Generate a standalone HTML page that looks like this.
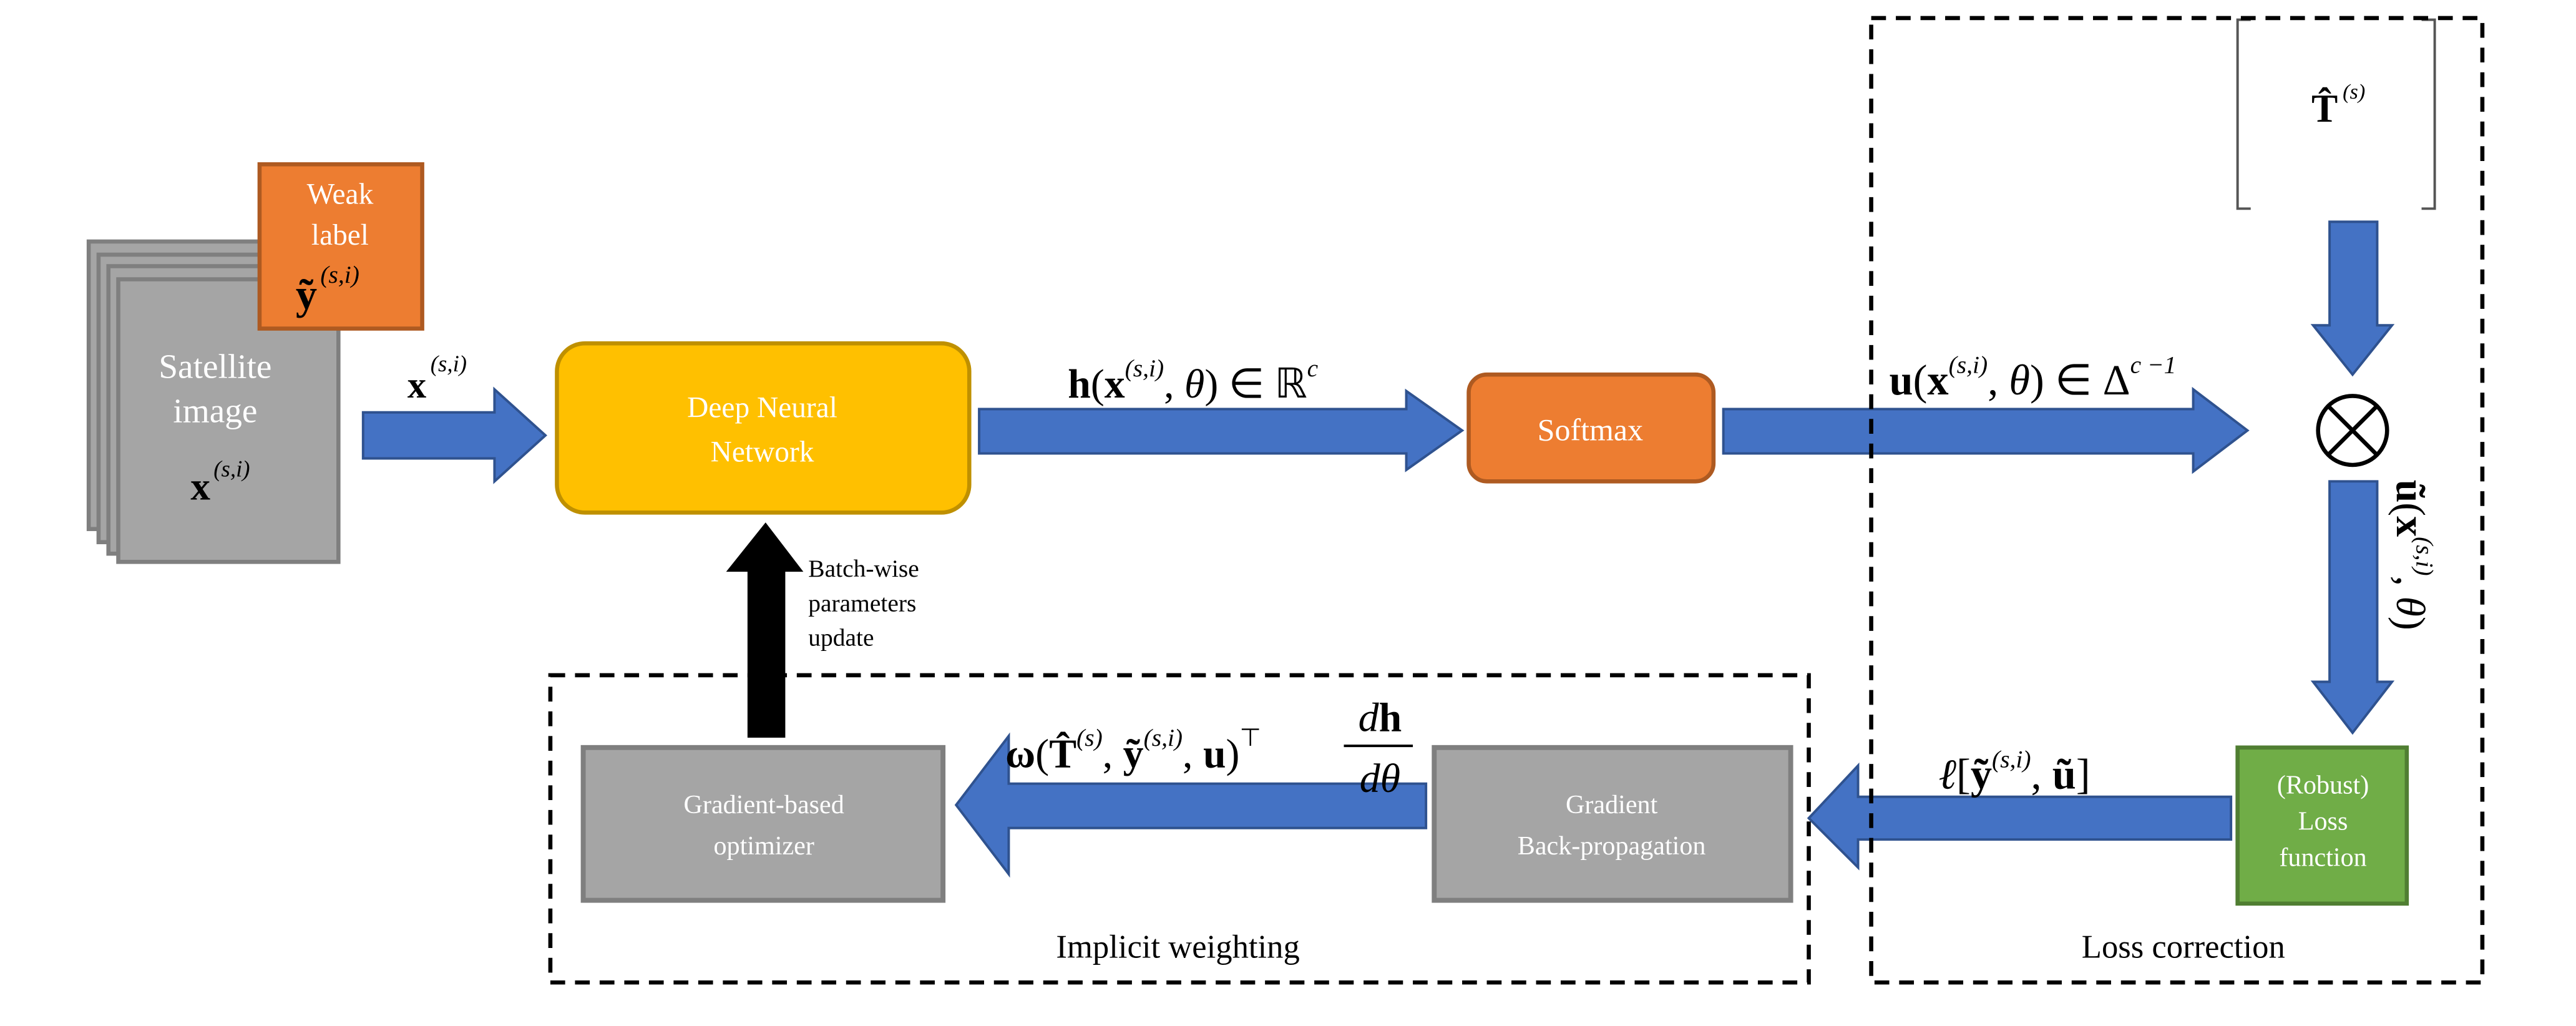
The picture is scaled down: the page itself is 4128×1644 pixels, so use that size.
<!DOCTYPE html>
<html><head><meta charset="utf-8"><style>
html,body{margin:0;padding:0;background:#fff;}
svg{display:block;}
text{font-family:"Liberation Serif",serif;}
</style></head><body>
<svg width="4128" height="1644" viewBox="0 0 1568 624.5" preserveAspectRatio="none" xmlns="http://www.w3.org/2000/svg">
<rect width="1568" height="625" fill="#fff"/>
<g fill="#a5a5a5" stroke="#7f7f7f" stroke-width="2.5">
<rect x="54" y="147" width="134" height="175"/>
<rect x="60" y="155" width="134" height="175"/>
<rect x="66" y="162" width="134" height="175"/>
<rect x="72" y="170" width="134" height="172"/>
</g>
<text x="131" y="230" fill="#fff" font-size="21" text-anchor="middle">Satellite</text>
<text x="131" y="257" fill="#fff" font-size="21" text-anchor="middle">image</text>
<text x="116" y="304" font-size="24" font-weight="bold">x</text>
<text x="130" y="290" font-size="14" font-style="italic">(s,i)</text>
<rect x="158" y="100" width="99" height="100" fill="#ed7d31" stroke="#ae5a21" stroke-width="2.5"/>
<text x="207" y="124" fill="#fff" font-size="18" text-anchor="middle">Weak</text>
<text x="207" y="149" fill="#fff" font-size="18" text-anchor="middle">label</text>
<text x="180" y="188" font-size="26" font-weight="bold">ỹ</text>
<text x="195" y="172" font-size="15" font-style="italic">(s,i)</text>
<g fill="#4472c4" stroke="#2f528f" stroke-width="1.5">
<polygon points="221,251 301,251 301,237 332,265 301,293 301,279 221,279"/>
<polygon points="596,249 856,249 856,238 890,262 856,286 856,276 596,276"/>
<polygon points="1049,249 1335,249 1335,237 1368,262 1335,287 1335,276 1049,276"/>
<polygon points="1418,135 1447,135 1447,198 1456,198 1432,228 1408,198 1418,198"/>
<polygon points="1418,293 1447,293 1447,415 1456,415 1432,446 1408,415 1418,415"/>
<polygon points="1358,485 1131,485 1131,466 1101,498 1131,528 1131,511 1358,511"/>
<polygon points="868,477 614,477 614,448 582,490 614,532 614,504 868,504"/>
</g>
<rect x="339" y="209" width="251" height="103" rx="17" fill="#ffc000" stroke="#bf9000" stroke-width="2.5"/>
<text x="464" y="254" fill="#fff" font-size="18" text-anchor="middle">Deep Neural</text>
<text x="464" y="281" fill="#fff" font-size="18" text-anchor="middle">Network</text>
<rect x="894" y="228" width="149" height="65" rx="11" fill="#ed7d31" stroke="#ae5a21" stroke-width="2.5"/>
<text x="968" y="268" fill="#fff" font-size="19" text-anchor="middle">Softmax</text>
<text x="248" y="242" font-size="23" font-weight="bold">x</text>
<text x="262" y="226" font-size="14" font-style="italic">(s,i)</text>
<text x="650" y="242" font-size="25"><tspan font-weight="bold">h</tspan>(<tspan font-weight="bold">x</tspan><tspan font-size="15" font-style="italic" dy="-13">(s,i)</tspan><tspan dy="13">, </tspan><tspan font-style="italic">θ</tspan>) ∈ ℝ<tspan font-size="15" font-style="italic" dy="-13">c</tspan></text>
<text x="1150" y="240" font-size="26"><tspan font-weight="bold">u</tspan>(<tspan font-weight="bold">x</tspan><tspan font-size="15" font-style="italic" dy="-13">(s,i)</tspan><tspan dy="13">, </tspan><tspan font-style="italic">θ</tspan>) ∈ Δ<tspan font-size="15" font-style="italic" dy="-13">c −1</tspan></text>
<circle cx="1432" cy="262" r="21" fill="#fff" stroke="#000" stroke-width="2.5"/>
<line x1="1417" y1="247" x2="1447" y2="277" stroke="#000" stroke-width="2.5"/>
<line x1="1447" y1="247" x2="1417" y2="277" stroke="#000" stroke-width="2.5"/>
<path d="M1370,12 H1362 V127 H1370 M1474,12 H1482 V127 H1474" fill="none" stroke="#555" stroke-width="1.5"/>
<text x="1407" y="74" font-size="24" font-weight="bold">T̂</text>
<text x="1426" y="60" font-size="13" font-style="italic">(s)</text>
<text transform="translate(1459,292) rotate(90)" font-size="25"><tspan font-weight="bold">ũ</tspan>(<tspan font-weight="bold">x</tspan><tspan font-size="15" font-style="italic" dy="-12">(s,i)</tspan><tspan dy="12">, </tspan><tspan font-style="italic">θ</tspan>)</text>
<rect x="1362" y="455" width="103" height="95" fill="#70ad47" stroke="#507e32" stroke-width="2.5"/>
<text x="1414" y="483" fill="#fff" font-size="16" text-anchor="middle">(Robust)</text>
<text x="1414" y="505" fill="#fff" font-size="16" text-anchor="middle">Loss</text>
<text x="1414" y="527" fill="#fff" font-size="16" text-anchor="middle">function</text>
<text x="1180" y="480" font-size="26"><tspan font-style="italic">ℓ</tspan>[<tspan font-weight="bold">ỹ</tspan><tspan font-size="15" font-style="italic" dy="-13">(s,i)</tspan><tspan dy="13">, </tspan><tspan font-weight="bold">ũ</tspan>]</text>
<rect x="873" y="455" width="217" height="93" fill="#a5a5a5" stroke="#7f7f7f" stroke-width="3"/>
<text x="981" y="495" fill="#fff" font-size="16" text-anchor="middle">Gradient</text>
<text x="981" y="520" fill="#fff" font-size="16" text-anchor="middle">Back-propagation</text>
<rect x="355" y="455" width="219" height="93" fill="#a5a5a5" stroke="#7f7f7f" stroke-width="3"/>
<text x="465" y="495" fill="#fff" font-size="16" text-anchor="middle">Gradient-based</text>
<text x="465" y="520" fill="#fff" font-size="16" text-anchor="middle">optimizer</text>
<text x="612" y="467" font-size="25"><tspan font-weight="bold">ω</tspan>(<tspan font-weight="bold">T̂</tspan><tspan font-size="15" font-style="italic" dy="-13">(s)</tspan><tspan dy="13">, </tspan><tspan font-weight="bold">ỹ</tspan><tspan font-size="15" font-style="italic" dy="-13">(s,i)</tspan><tspan dy="13">, </tspan><tspan font-weight="bold">u</tspan>)<tspan font-size="15" dy="-13">⊤</tspan></text>
<text x="840" y="445" font-size="25" text-anchor="middle"><tspan font-style="italic">d</tspan><tspan font-weight="bold">h</tspan></text>
<line x1="818" y1="454" x2="860" y2="454" stroke="#000" stroke-width="1.5"/>
<text x="840" y="482" font-size="25" font-style="italic" text-anchor="middle">dθ</text>
<polygon points="455,449 478,449 478,348 489,348 466,318 442,348 455,348" fill="#000"/>
<text x="492" y="351" font-size="15">Batch-wise</text>
<text x="492" y="372" font-size="15">parameters</text>
<text x="492" y="393" font-size="15">update</text>
<rect x="335" y="411" width="766" height="187" fill="none" stroke="#000" stroke-width="2.5" stroke-dasharray="9,6"/>
<rect x="1139" y="11" width="372" height="587" fill="none" stroke="#000" stroke-width="2.5" stroke-dasharray="9,6"/>
<text x="717" y="583" font-size="20" text-anchor="middle">Implicit weighting</text>
<text x="1329" y="583" font-size="20" text-anchor="middle">Loss correction</text>
</svg>
</body></html>
